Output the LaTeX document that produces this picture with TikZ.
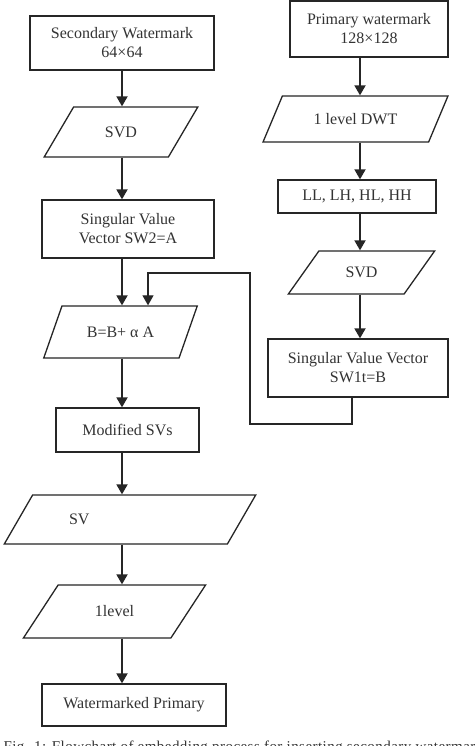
\documentclass[tikz,border=0pt]{standalone}
\usepackage{fontspec}
\setmainfont{Liberation Serif}
\usetikzlibrary{shapes.geometric}
\usetikzlibrary{arrows.meta}

\tikzset{
    box/.style = {draw = black!85, line width = 1.3pt, fill = white, rectangle, align = center, inner sep = 2pt},
    slanted/.style = {draw = black!85, line width = 1.3pt, fill = white, trapezium, trapezium left angle = #1, trapezium right angle = {180 - #1}, trapezium stretches = true, align = center, inner sep = 2pt},
    arrowline/.style = {draw = black!85, line width = 1.8pt, -{Triangle[length = 10pt, width = 11pt]}},
    feedback/.style = {draw = black!85, line width = 1.1pt, -{Triangle[length = 10pt, width = 11pt]}}
}

\begin{document}
\begin{tikzpicture}[x = 1pt, y = -1pt, font = \fontsize{16}{19}\selectfont, text = black!80]
                \fill [white] (0, 0) rectangle (474, 746);
                \useasboundingbox (0, 0) rectangle (474, 746);
                \coordinate (laxis) at (122, 0);
                \coordinate (raxis) at (360, 0);
                % left column
                \node [box, minimum width = 184, minimum height = 54] (secwm) at (122, 43) {Secondary Watermark\\64×64};
                \node [slanted = 53, minimum width = 154, minimum height = 50] (svdl) at (121, 132) {SVD};
                \node [box, minimum width = 172, minimum height = 58] (sw2) at (128, 229) {Singular Value\\Vector SW2=A};
                \node [slanted = 53, minimum width = 155, minimum height = 52] (embed) at (120.5, 332) {B=B+ α A};
                \node [box, minimum width = 143, minimum height = 44] (modsv) at (127.5, 430) {Modified SVs};
                \node [slanted = 39, minimum width = 252, minimum height = 49] (sv) at (130, 519.5) {\makebox[122pt][l]{SV}};
                \node [slanted = 49, minimum width = 183, minimum height = 53] (ilevel) at (114.5, 611.5) {1level};
                \node [box, minimum width = 184, minimum height = 42] (wmprim) at (134, 705) {Watermarked Primary};
                % right column
                \node [box, minimum width = 158, minimum height = 56] (primwm) at (369, 29) {Primary watermark\\128×128};
                \node [slanted = 53, minimum width = 185, minimum height = 46] (dwt) at (355.5, 119) {1 level DWT};
                \node [box, minimum width = 158, minimum height = 33] (bands) at (357, 196.5) {LL, LH, HL, HH};
                \node [slanted = 49, minimum width = 147, minimum height = 43] (svdr) at (361.5, 272.5) {SVD};
                \node [box, minimum width = 180, minimum height = 58] (sw1t) at (358, 368) {Singular Value Vector\\SW1t=B};
                % arrows
                \draw [arrowline] (secwm.south -| laxis) -- (svdl.north -| laxis);
                \draw [arrowline] (svdl.south -| laxis) -- (sw2.north -| laxis);
                \draw [arrowline] (sw2.south -| laxis) -- (embed.north -| laxis);
                \draw [arrowline] (embed.south -| laxis) -- (modsv.north -| laxis);
                \draw [arrowline] (modsv.south -| laxis) -- (sv.north -| laxis);
                \draw [arrowline] (sv.south -| laxis) -- (ilevel.north -| laxis);
                \draw [arrowline] (ilevel.south -| laxis) -- (wmprim.north -| laxis);
                \draw [arrowline] (primwm.south -| raxis) -- (dwt.north -| raxis);
                \draw [arrowline] (dwt.south -| raxis) -- (bands.north -| raxis);
                \draw [arrowline] (bands.south -| raxis) -- (svdr.north -| raxis);
                \draw [arrowline] (svdr.south -| raxis) -- (sw1t.north -| raxis);
                % back to the embedding step
                \coordinate (fb1) at (250, 424);
                \coordinate (fb2) at (148, 273);
                \draw [feedback] ([xshift = -6] sw1t.south) |- (fb1) |- (fb2) -- (fb2 |- embed.north);
                \node [anchor = base west, font = \fontsize{15}{18}\selectfont\addfontfeatures{LetterSpace = 3}] (caption) at (0, 751) {Fig. 1: Flowchart of embedding process for inserting secondary watermark};
            \end{tikzpicture}
\end{document}
